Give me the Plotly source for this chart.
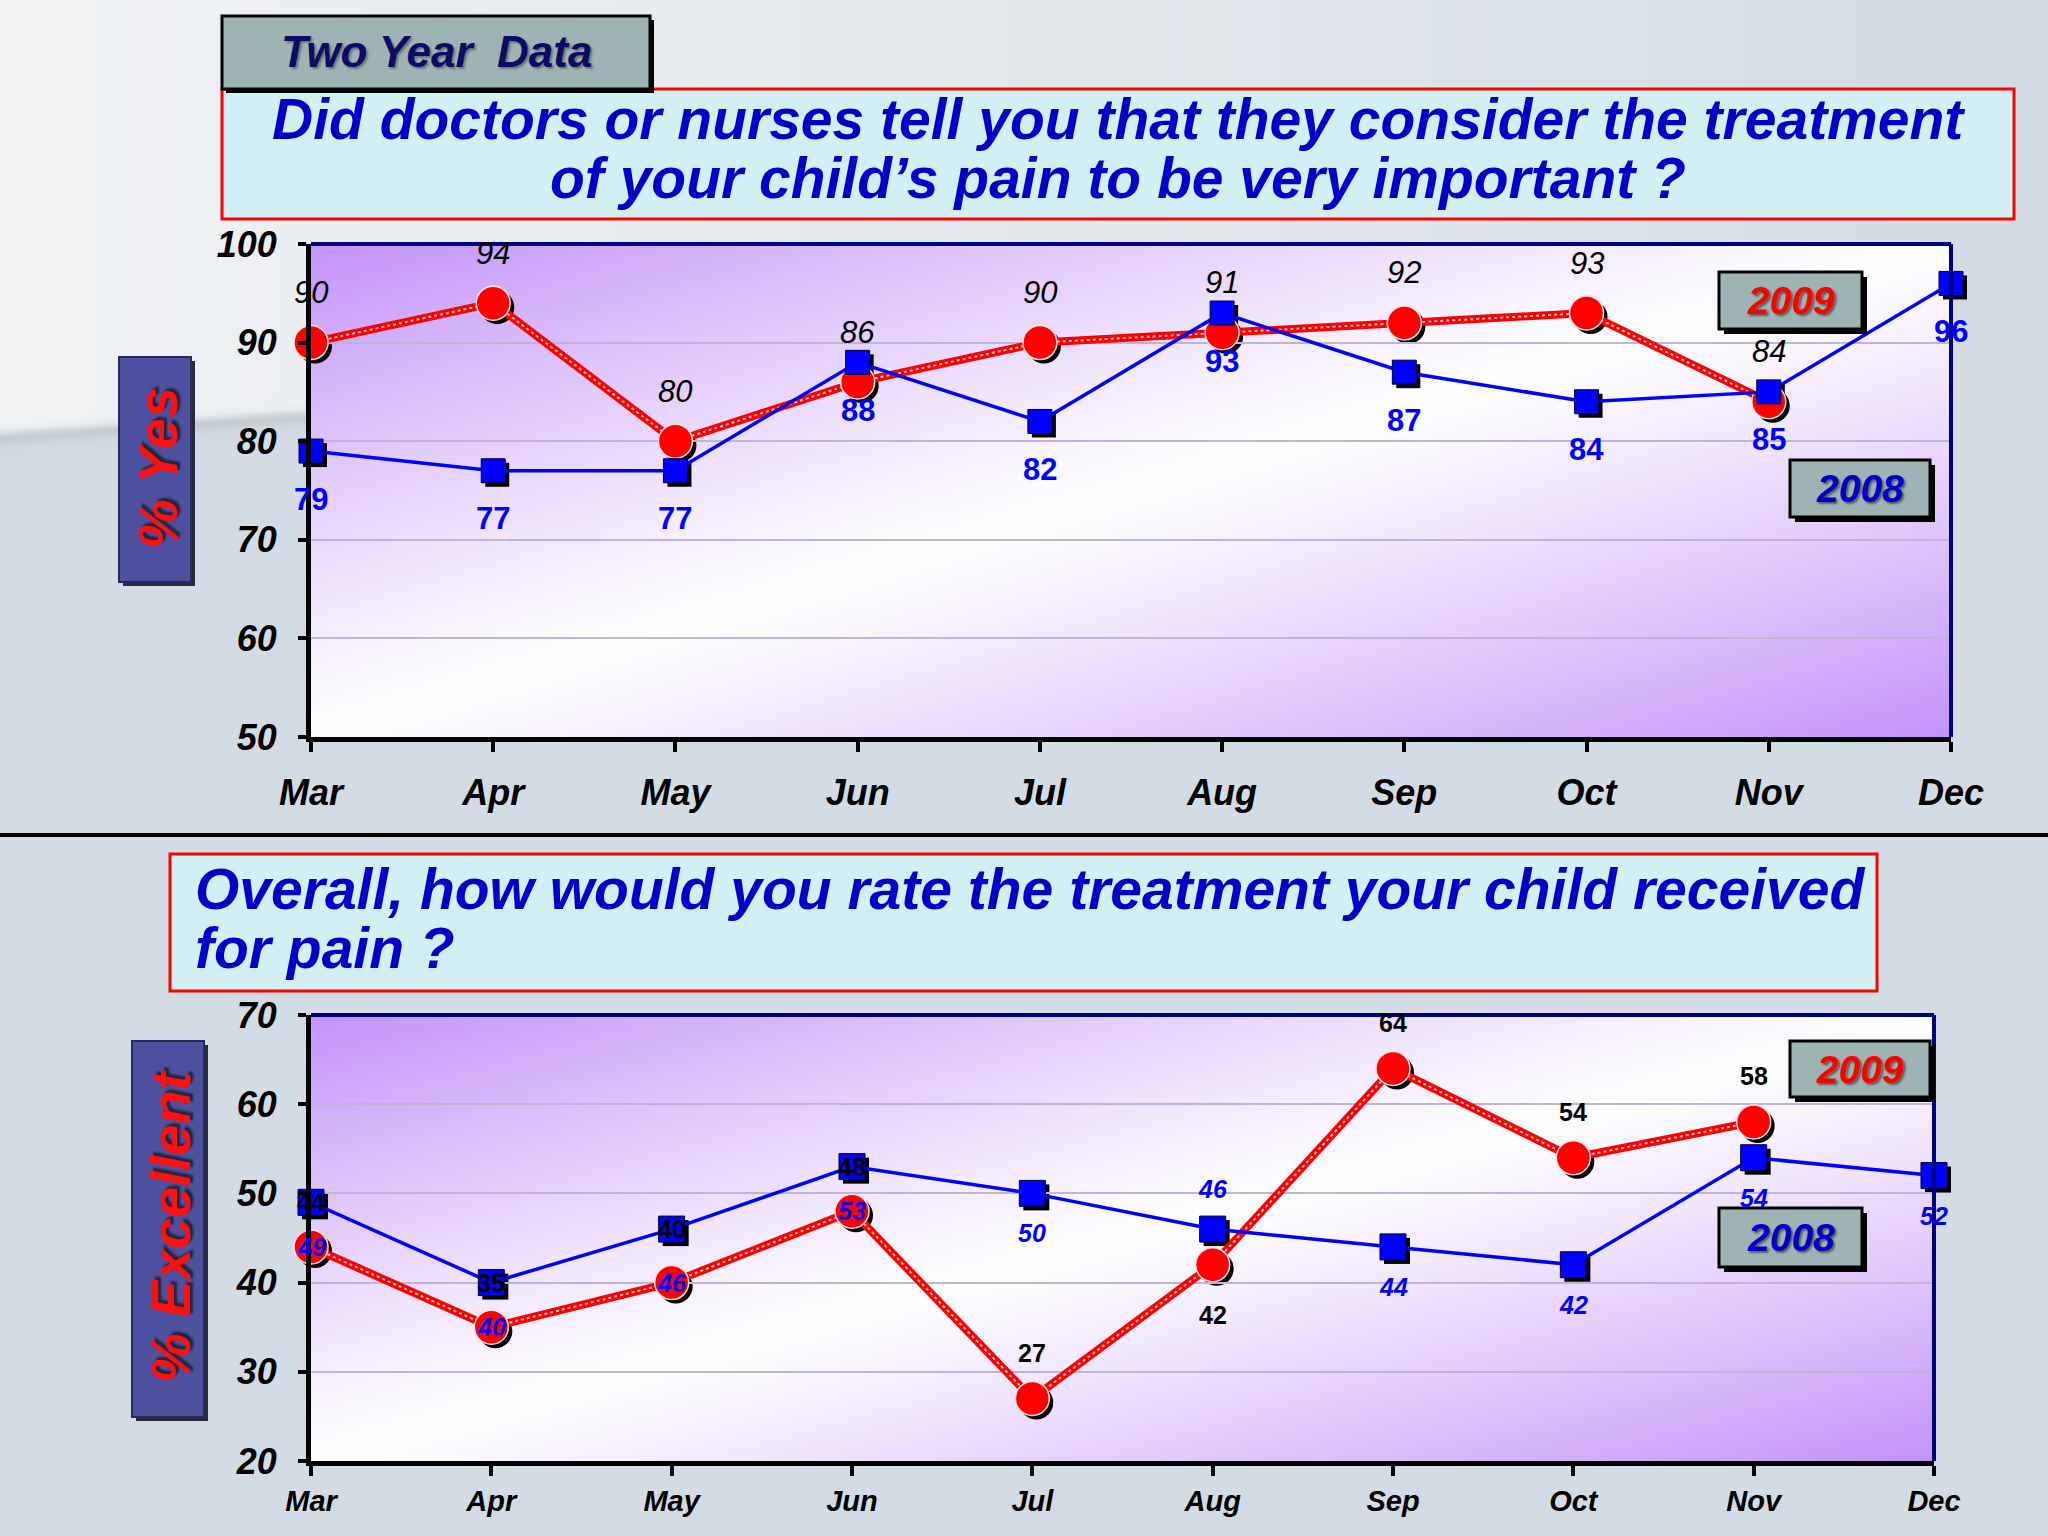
import base64, struct, zlib
import numpy as np
import plotly.graph_objects as go

W, H = 2048, 1536

# ---------------- data ----------------
months = ["Mar", "Apr", "May", "Jun", "Jul", "Aug", "Sep", "Oct", "Nov", "Dec"]
yes_2009 = [90, 94, 80, 86, 90, 91, 92, 93, 84]
yes_2008 = [79, 77, 77, 88, 82, 93, 87, 84, 85, 96]
exc_2009 = [44, 35, 40, 48, 27, 42, 64, 54, 58]
exc_2008 = [49, 40, 46, 53, 50, 46, 44, 42, 54, 52]
yes_ticks = [50, 60, 70, 80, 90, 100]
exc_ticks = [20, 30, 40, 50, 60, 70]

title_small = "Two Year  Data"
q1_lines = ["Did doctors or nurses tell you that they consider the treatment",
            "of your child\u2019s pain to be very important ?"]
q2_lines = ["Overall, how would you rate the treatment your child received",
            "for pain ?"]

# label placement (style config)
top_place_09 = ["above"] * 9
top_place_08 = ["below"] * 10
bot_place_09 = ["swap"] * 4 + ["above", "below", "above", "above", "above"]
bot_place_08 = ["swap"] * 4 + ["below", "above", "below", "below", "below", "below"]

FONT = "Liberation Sans, Arial, sans-serif"
RED = "#ff0000"
BLUE = "#0000ff"


# ---------------- helpers ----------------
def png_uri(arr):
    arr = np.clip(arr, 0, 255).astype(np.uint8)
    h, w, _ = arr.shape
    raw = b"".join(b"\x00" + arr[i].tobytes() for i in range(h))

    def chunk(t, d):
        c = struct.pack(">I", len(d)) + t + d
        return c + struct.pack(">I", zlib.crc32(t + d) & 0xffffffff)

    png = (b"\x89PNG\r\n\x1a\n"
           + chunk(b"IHDR", struct.pack(">IIBBBBB", w, h, 8, 2, 0, 0, 0))
           + chunk(b"IDAT", zlib.compress(raw, 9))
           + chunk(b"IEND", b""))
    return "data:image/png;base64," + base64.b64encode(png).decode()


def plot_gradient(w=256, h=128):
    xs = np.linspace(0, 1, w)[None, :]
    ys = np.linspace(0, 1, h)[:, None]
    u = (xs + ys) / 2
    t = np.clip(np.abs(u - 0.5) * 2, 0, 1) ** 1.15
    purple = np.array([196, 148, 249], float)
    white = np.array([255, 255, 255], float)
    return white + (purple - white) * t[..., None]


def page_gradient(w=1024, h=768):
    X = np.linspace(0, W, w)[None, :]
    Y = np.linspace(0, H, h)[:, None]
    base = np.array([211, 220, 228], float)
    light = np.array([240, 242, 244], float)
    edge = 432 - 0.07 * X
    above = 1 / (1 + np.exp((Y - edge) / 2.0))
    fx = np.clip(1 - X / 1900, 0, 1) ** 0.7
    a = above * fx
    img = base + (light - base) * a[..., None]
    band = np.exp(-((Y - (edge + 7)) / 6.0) ** 2) * (X < 330)
    gray = np.array([195, 201, 207], float)
    img = img * (1 - 0.8 * band[..., None]) + gray * 0.8 * band[..., None]
    return img


def px(x):
    return x / W


def py(y):
    return 1 - y / H


shapes = []
annotations = []


def rect(x0, y0, x1, y1, fill, line_color=None, line_width=0, layer="above"):
    shapes.append(dict(type="rect", xref="paper", yref="paper",
                       x0=px(x0), x1=px(x1), y0=py(y1), y1=py(y0),
                       fillcolor=fill, layer=layer,
                       line=dict(color=line_color or fill, width=line_width)))


def text_ann(x, y, text, size, color, xanchor="center", angle=0, weight="bold",
             style="italic", shadow="none"):
    annotations.append(dict(x=px(x), y=py(y), xref="paper", yref="paper", text=text,
                            showarrow=False, xanchor=xanchor, yanchor="middle",
                            textangle=angle,
                            font=dict(family=FONT, size=size, color=color,
                                      weight=weight, style=style, shadow=shadow)))


# ---------------- geometry (px) ----------------
TOP = dict(x0=311, x1=1951, y0=244, y1=737)
BOT = dict(x0=311, x1=1934, y0=1015, y1=1461)
SH = 4  # shadow offset px

fig = go.Figure()


def dom(g, dx=0, dy=0):
    return ([px(g["x0"] + dx), px(g["x1"] + dx)],
            [py(g["y1"] + dy), py(g["y0"] + dy)])


def add_chart(g, sx, sy, mx, my, v09, v08, yr, yticks, tick_x_size, x_standoff,
              m09, sq_size):
    # shadow axes
    xd, yd = dom(g, SH, SH)
    fig.layout[f"xaxis{sx[1:]}"] = dict(domain=xd, anchor=sy, type="category",
                                        categoryorder="array", categoryarray=months,
                                        range=[0, len(months) - 1], visible=False,
                                        automargin=False)
    fig.layout[f"yaxis{sy[1:]}"] = dict(domain=yd, anchor=sx, range=yr, visible=False,
                                        automargin=False)
    # main axes
    xd, yd = dom(g)
    fig.layout[f"xaxis{mx[1:]}"] = dict(
        domain=xd, anchor=my, type="category", categoryorder="array",
        categoryarray=months, range=[0, len(months) - 1],
        tickmode="array", tickvals=months,
        ticktext=[f"<b><i>{m}</i></b>" for m in months],
        tickfont=dict(family=FONT, size=tick_x_size, color="black"),
        ticks="outside", ticklen=10, tickwidth=4, tickcolor="black",
        ticklabelstandoff=x_standoff, automargin=False,
        showline=True, linecolor="black", linewidth=5,
        showgrid=False, zeroline=False)
    fig.layout[f"yaxis{my[1:]}"] = dict(
        domain=yd, anchor=mx, range=yr, tickmode="array", tickvals=yticks,
        ticktext=[f"<b><i>{t}</i></b>" for t in yticks],
        tickfont=dict(family=FONT, size=36, color="black"),
        ticks="outside", ticklen=8, tickwidth=4, tickcolor="black",
        ticklabelstandoff=14, automargin=False,
        showline=True, linecolor="black", linewidth=5,
        showgrid=True, gridcolor="#bdb4d8", gridwidth=1.5, zeroline=False)

    xs = "x" if sx == "x1" else sx
    ys = "y" if sy == "y1" else sy
    # shadows
    fig.add_trace(go.Scatter(x=months[:len(v09)], y=v09, mode="markers", xaxis=xs, yaxis=ys,
                             marker=dict(symbol="circle", size=m09, color="black"),
                             cliponaxis=False, hoverinfo="skip"))
    fig.add_trace(go.Scatter(x=months[:len(v08)], y=v08, mode="markers", xaxis=xs, yaxis=ys,
                             marker=dict(symbol="square", size=sq_size, color="black"),
                             cliponaxis=False, hoverinfo="skip"))
    # 2009 red textured line
    fig.add_trace(go.Scatter(x=months[:len(v09)], y=v09, mode="lines", xaxis=mx, yaxis=my,
                             line=dict(color=RED, width=8), cliponaxis=False, name="2009"))
    fig.add_trace(go.Scatter(x=months[:len(v09)], y=v09, mode="lines", xaxis=mx, yaxis=my,
                             line=dict(color="rgba(255,255,255,0.75)", width=2, dash="dot"),
                             cliponaxis=False, hoverinfo="skip"))
    fig.add_trace(go.Scatter(x=months[:len(v09)], y=v09, mode="markers", xaxis=mx, yaxis=my,
                             marker=dict(symbol="circle", size=m09, color=RED,
                                         line=dict(color="#ffe0e0", width=1.5)),
                             cliponaxis=False, hoverinfo="skip"))
    # 2008 blue
    fig.add_trace(go.Scatter(x=months[:len(v08)], y=v08, mode="lines+markers", xaxis=mx, yaxis=my,
                             line=dict(color=BLUE, width=3.5),
                             marker=dict(symbol="square", size=sq_size, color=BLUE,
                                         line=dict(color="#000033", width=1)),
                             cliponaxis=False, name="2008"))
    # top/right navy border
    for (a, b, c, d) in [(0, 1, 1, 1), (1, 0, 1, 1)]:
        shapes.append(dict(type="line", xref=f"{mx} domain", yref=f"{my} domain",
                           x0=a, y0=b, x1=c, y1=d, line=dict(color="#000080", width=4)))


add_chart(TOP, "x1", "y1", "x2", "y2", yes_2009, yes_2008, [50, 100], yes_ticks, 36, 10, 34, 24)
add_chart(BOT, "x3", "y3", "x4", "y4", exc_2009, exc_2008, [20, 70], exc_ticks, 29, 0, 34, 26)


def add_labels(xr, yr, vals, other, placement, up, down, fmt, size, color):
    for i, v in enumerate(vals):
        p = placement[i]
        if p == "swap":
            y, s = other[i], 0
        elif p == "above":
            y, s = v, up
        else:
            y, s = v, -down
        annotations.append(dict(x=months[i], y=y, xref=xr, yref=yr, text=fmt.format(v),
                                yshift=s, showarrow=False,
                                font=dict(family=FONT, size=size, color=color)))


add_labels("x2", "y2", yes_2009, yes_2008, top_place_09, 50, 50, "<i>{}</i>", 31, "black")
add_labels("x2", "y2", yes_2008, yes_2009, top_place_08, 48, 48, "<b>{}</b>", 31, BLUE)
add_labels("x4", "y4", exc_2009, exc_2008, bot_place_09, 46, 50, "<b>{}</b>", 25, "black")
add_labels("x4", "y4", exc_2008, exc_2009, bot_place_08, 40, 40, "<b><i>{}</i></b>", 25, BLUE)

# ---------------- decorations ----------------
# divider
shapes.append(dict(type="line", xref="paper", yref="paper", x0=0, x1=1, y0=py(835), y1=py(835),
                   line=dict(color="black", width=4)))

# question boxes
rect(222, 89, 2014, 219, "#d3eff4", "#ff0000", 3)
rect(170, 854, 1877, 991, "#d3eff4", "#ff0000", 3)
# title box with shadow
rect(226, 20, 654, 93, "#000000")
rect(222, 16, 650, 89, "#9eb4b4", "#000000", 3)

# y-title boxes
rect(123, 361, 195, 586, "#2a2a3a")
rect(119, 357, 191, 582, "#4c509f", "#26285e", 2)
rect(136, 1045, 208, 1421, "#2a2a3a")
rect(132, 1041, 204, 1417, "#4c509f", "#26285e", 2)

# series boxes
legend_boxes = [
    (1719, 272, 1862, 329, "2009", RED),
    (1790, 460, 1930, 517, "2008", "#0000cc"),
    (1790, 1041, 1930, 1097, "2009", RED),
    (1719, 1208, 1862, 1267, "2008", "#0000cc"),
]
for (x0, y0, x1, y1, t, c) in legend_boxes:
    rect(x0 + 5, y0 + 5, x1 + 5, y1 + 5, "#000000")
    rect(x0, y0, x1, y1, "#9eb4b4", "#000000", 3)
    text_ann((x0 + x1) / 2, (y0 + y1) / 2, t, 39, c,
             shadow="2px 2px 2px rgba(40,40,40,0.6)")

text_ann(436, 52, title_small, 44, "#0c0c66", shadow="2px 2px 2px rgba(60,60,60,0.5)")
text_ann(1118, 119, q1_lines[0], 57, "#0000c8")
text_ann(1118, 178, q1_lines[1], 57, "#0000c8")
text_ann(193, 889, q2_lines[0], 57, "#0000c8", xanchor="left")
text_ann(193, 948, q2_lines[1], 57, "#0000c8", xanchor="left")
text_ann(157, 468, "% Yes", 56, "#ff1010", angle=-90,
         shadow="3px 3px 2px rgba(20,20,20,0.7)")
text_ann(170, 1226, "% Excellent", 56, "#ff1010", angle=-90,
         shadow="3px 3px 2px rgba(20,20,20,0.7)")

images = [
    dict(source=png_uri(page_gradient()), xref="paper", yref="paper", x=0, y=1,
         sizex=1, sizey=1, sizing="stretch", layer="below", xanchor="left", yanchor="top"),
]
pg = png_uri(plot_gradient())
for g in (TOP, BOT):
    images.append(dict(source=pg, xref="paper", yref="paper", x=px(g["x0"]), y=py(g["y0"]),
                       sizex=(g["x1"] - g["x0"]) / W, sizey=(g["y1"] - g["y0"]) / H,
                       sizing="stretch", layer="below", xanchor="left", yanchor="top"))

fig.update_layout(width=W, height=H, autosize=False,
                  margin=dict(l=0, r=0, t=0, b=0, pad=0, autoexpand=False),
                  paper_bgcolor="#d3dce4", plot_bgcolor="rgba(0,0,0,0)",
                  showlegend=False, shapes=shapes, annotations=annotations, images=images)

fig.write_html("out.html")
